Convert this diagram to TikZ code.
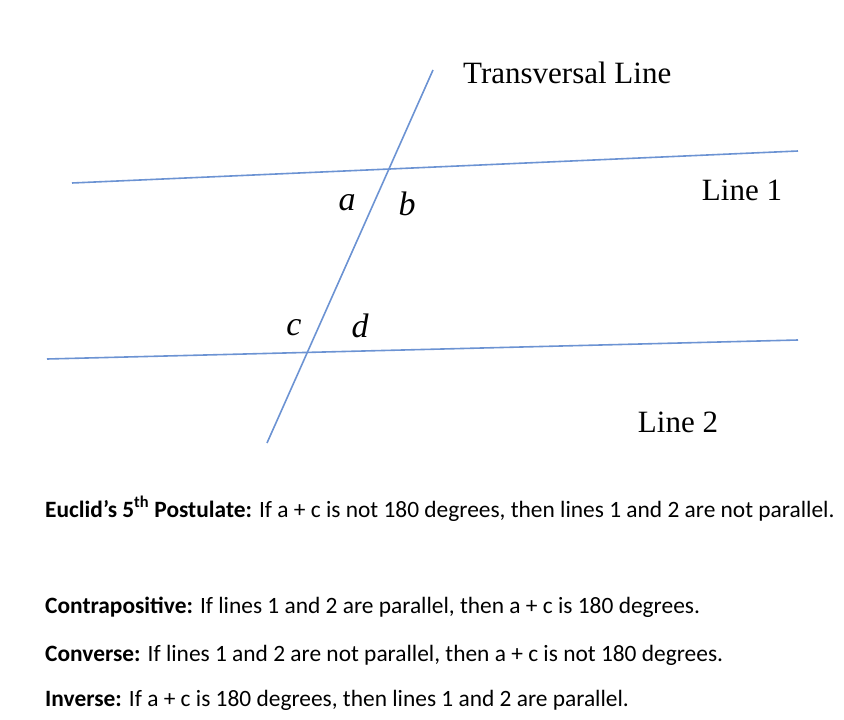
\documentclass[tikz,border=0pt]{standalone}
\usepackage{fontspec}
\setmainfont{Liberation Serif}
\newfontfamily\calibri{Carlito}
\usetikzlibrary{
	calc,
	positioning,
}
\definecolor{LineBlue}{HTML}{6C93D3}

\begin{document}
\begin{tikzpicture} [
			x=1pt,y=-1pt,
			every node/.style={inner sep=0pt},
			geo/.style={draw=LineBlue,line width=1.6pt},
			lbl/.style={font=\fontsize{31}{37}\selectfont},
			ang/.style={font=\fontsize{34}{40}\selectfont\itshape},
			stmt/.style={anchor=base west,font=\calibri\fontsize{23.4}{28}\selectfont}
		]
		\useasboundingbox (0,0) rectangle (844,720);

		% the three lines
		\coordinate (l1w) at (72,183);
		\coordinate (l1e) at (798,151);
		\coordinate (l2w) at (47,359);
		\coordinate (l2e) at (798,340);
		\coordinate (ttop) at (433,70);
		\coordinate (tbot) at (267,443);
		\draw[geo] (l1w) -- (l1e);
		\draw[geo] (l2w) -- (l2e);
		\draw[geo] (ttop) -- (tbot);

		\node [lbl,anchor=west] (trans) at (463,73) {Transversal Line};
		\node [lbl] (line1) at (742,190) {Line 1};
		\node [lbl] (line2) at (678,422) {Line 2};

		% angles
		\node [ang] (a) at (347,203) {a};
		\node [ang] (b) at (407,204) {b};
		\node [ang] (c) at (294,328) {c};
		\node [ang] (d) at (360,326) {d};

		% statements
		\node [stmt] (euclid) at (45,517) {\textbf{Euclid’s 5\textsuperscript{th} Postulate:} If a + c is not 180 degrees, then lines 1 and 2 are not parallel.};
		\node [stmt] (contra) at (45,613) {\textbf{Contrapositive:} If lines 1 and 2 are parallel, then a + c is 180 degrees.};
		\node [stmt] (conv) at (45,661) {\textbf{Converse:} If lines 1 and 2 are not parallel, then a + c is not 180 degrees.};
		\node [stmt] (inv) at (45,706) {\textbf{Inverse:} If a + c is 180 degrees, then lines 1 and 2 are parallel.};
	\end{tikzpicture}
\end{document}
